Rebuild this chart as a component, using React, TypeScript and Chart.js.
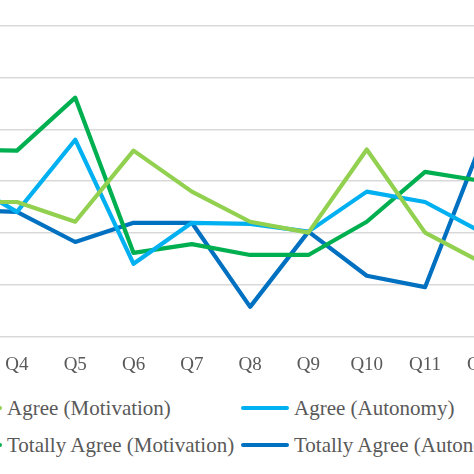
import React, { useEffect, useRef } from "react";
import { Chart, registerables } from "chart.js";

Chart.register(...registerables);

// Survey questions on the horizontal axis
const questions = ["Q3", "Q4", "Q5", "Q6", "Q7", "Q8", "Q9", "Q10", "Q11", "Q12"];

// Share of answers per question (%)
const agreeMotivation = [26.0, 26.0, 22.2, 35.9, 28.0, 22.2, 20.1, 36.1, 20.1, 14.2];
const agreeAutonomy = [30.7, 24.1, 38.0, 14.1, 22.0, 21.8, 20.3, 28.0, 26.0, 20.0];
const totallyAgreeMotivation = [36.1, 35.9, 46.1, 16.2, 17.9, 15.8, 15.8, 22.2, 31.8, 30.0];
const totallyAgreeAutonomy = [24.5, 24.1, 18.3, 22.0, 22.0, 5.8, 20.3, 11.8, 9.6, 38.4];

const seriesNames = [
  "Agree (Motivation)",
  "Agree (Autonomy)",
  "Totally Agree (Motivation)",
  "Totally Agree (Autonomy)",
];
const seriesColors = ["#92D050", "#00B0F0", "#00B050", "#0070C0"];
const seriesValues = [agreeMotivation, agreeAutonomy, totallyAgreeMotivation, totallyAgreeAutonomy];

const yMin = 0;
const yMax = 60;
const yStep = 10;

const FONT = "'Liberation Serif', 'Times New Roman', serif";
const TEXT = "#595959";

export default function App() {
  const canvasRef = useRef<HTMLCanvasElement | null>(null);

  useEffect(() => {
    const canvas = canvasRef.current;
    if (!canvas) return;
    const chart = new Chart(canvas, {
      type: "line",
      data: {
        labels: questions,
        datasets: seriesNames.map((name, i) => ({
          label: name,
          data: seriesValues[i],
          borderColor: seriesColors[i],
          backgroundColor: seriesColors[i],
          borderWidth: 4.2,
          pointRadius: 0,
          tension: 0,
          borderJoinStyle: "round" as const,
          borderCapStyle: "round" as const,
          fill: false,
        })),
      },
      options: {
        animation: false,
        responsive: false,
        maintainAspectRatio: false,
        layout: { padding: { left: 29.5, right: 37.5, top: 25.5, bottom: 0 } },
        plugins: {
          legend: { display: false },
          tooltip: { enabled: false },
        },
        scales: {
          x: {
            type: "category",
            offset: true,
            grid: { display: false, drawTicks: false },
            border: { display: false },
            ticks: {
              autoSkip: false,
              maxRotation: 0,
              padding: 17,
              color: TEXT,
              font: { family: FONT, size: 19 },
            },
            afterFit: (s: any) => {
              s.height = 53;
            },
          },
          y: {
            min: yMin,
            max: yMax,
            ticks: { display: false, stepSize: yStep },
            grid: { color: "#d9d9d9", lineWidth: 1.6, drawTicks: false },
            border: { display: false },
            afterFit: (s: any) => {
              s.width = 0;
            },
          },
        },
      },
    });
    return () => chart.destroy();
  }, []);

  const rows = [
    [0, 1],
    [2, 3],
  ];

  return (
    <div
      style={{
        position: "fixed",
        left: 0,
        top: 0,
        width: 474,
        height: 474,
        overflow: "hidden",
        background: "#ffffff",
      }}
    >
      <canvas
        ref={canvasRef}
        width={650}
        height={390}
        style={{ position: "absolute", left: -100, top: 0, width: 650, height: 390 }}
      />
      {rows.map((row, r) =>
        row.map((idx, c) => (
          <div
            key={idx}
            style={{
              position: "absolute",
              left: -46 + c * 287,
              top: 407.5 + r * 37 - 12,
              height: 24,
              display: "flex",
              alignItems: "center",
              whiteSpace: "nowrap",
            }}
          >
            <div
              style={{
                width: 48,
                height: 4,
                borderRadius: 2,
                background: seriesColors[idx],
                marginRight: 5,
                flex: "none",
              }}
            />
            <span style={{ fontFamily: FONT, fontSize: 21, color: TEXT, lineHeight: "24px" }}>
              {seriesNames[idx]}
            </span>
          </div>
        ))
      )}
    </div>
  );
}
